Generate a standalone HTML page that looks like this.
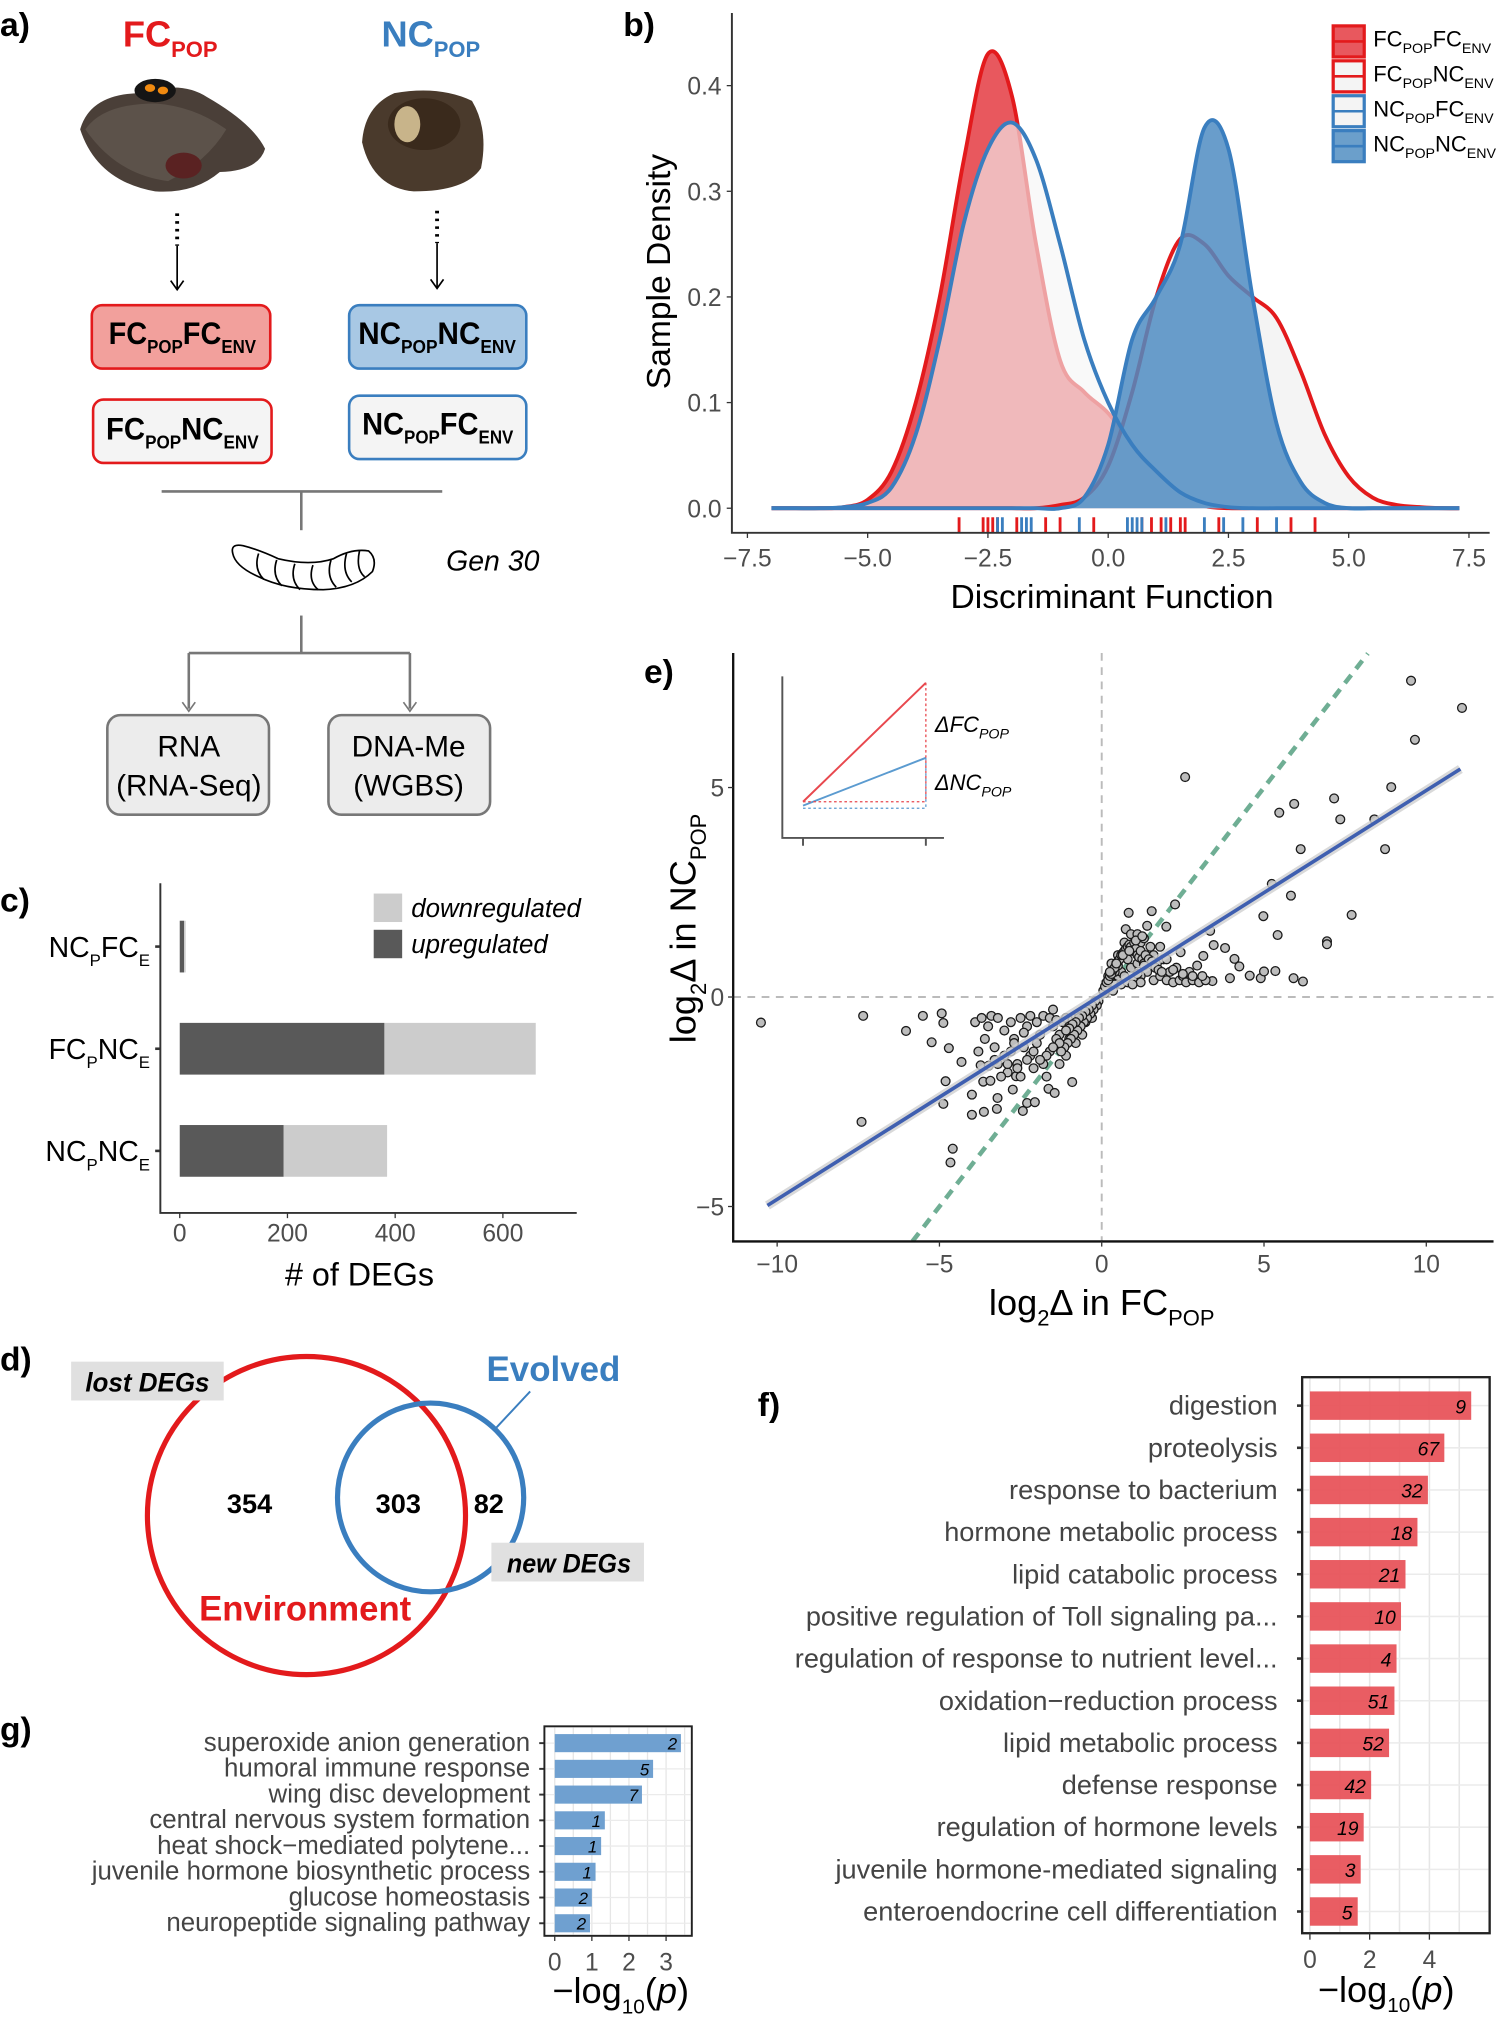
<!DOCTYPE html>
<html><head><meta charset="utf-8">
<style>
html,body{margin:0;padding:0;background:#fff;}
svg{display:block;}
text{font-family:"Liberation Sans Narrow","Liberation Sans",sans-serif;}
.tick{fill:#4d4d4d;font-size:19px;}
.lab{font-weight:bold;font-size:26px;fill:#000;}
</style></head>
<body>
<svg id="fig" width="1500" height="2038" viewBox="0 0 1160 1576" xmlns="http://www.w3.org/2000/svg">
<!-- PANEL A -->
<g>
<text x="0" y="28" class="lab">a)</text>
<text x="95" y="36" font-size="28" font-weight="bold" fill="#e31a1c">FC<tspan font-size="17" dy="8">POP</tspan></text>
<text x="295" y="36" font-size="28" font-weight="bold" fill="#3a7ebf">NC<tspan font-size="17" dy="8">POP</tspan></text>
<g>
<path d="M62,100 Q70,72 110,72 Q140,62 160,75 Q195,95 205,115 Q200,132 170,133 Q150,150 120,148 Q75,140 62,100Z" fill="#4a3f38"/>
<path d="M66,100 Q80,80 120,80 Q150,82 175,100 Q160,125 130,140 Q90,135 66,100Z" fill="#5c524a"/>
<ellipse cx="142" cy="128" rx="14" ry="10" fill="#5a2222"/>
<ellipse cx="120" cy="70" rx="16" ry="9" fill="#151515"/>
<ellipse cx="116" cy="68" rx="4" ry="3" fill="#f08a10"/><ellipse cx="126" cy="70" rx="4" ry="3" fill="#f08a10"/>
</g>
<g>
<path d="M280,110 Q282,82 305,72 Q340,66 365,78 Q378,100 372,130 Q360,148 320,148 Q288,145 280,110Z" fill="#4a3a2c"/>
<ellipse cx="328" cy="96" rx="28" ry="20" fill="#3a2a1c"/>
<ellipse cx="315" cy="96" rx="10" ry="14" fill="#c8b48a"/>
</g>
<g stroke="#000" fill="none" stroke-width="1.3">
<line x1="137" y1="165" x2="137" y2="190" stroke-dasharray="2,4" stroke-width="3"/>
<line x1="137" y1="190" x2="137" y2="223"/><path d="M132,217 L137,224 L142,217"/>
<line x1="338" y1="163" x2="338" y2="188" stroke-dasharray="2,4" stroke-width="3"/>
<line x1="338" y1="188" x2="338" y2="222"/><path d="M333,216 L338,223 L343,216"/>
</g>
<g><rect x="71" y="236" width="138" height="49" rx="8" fill="#f2a09c" stroke="#e31a1c" stroke-width="2"/>
<text x="84" y="266" font-size="24" font-weight="bold" textLength="114" lengthAdjust="spacingAndGlyphs">FC<tspan font-size="14" dy="7">POP</tspan><tspan dy="-7">FC</tspan><tspan font-size="14" dy="7">ENV</tspan></text></g>
<g><rect x="270" y="236" width="137" height="49" rx="8" fill="#a8c8e4" stroke="#3a7ebf" stroke-width="2"/>
<text x="277" y="266" font-size="24" font-weight="bold" textLength="122" lengthAdjust="spacingAndGlyphs">NC<tspan font-size="14" dy="7">POP</tspan><tspan dy="-7">NC</tspan><tspan font-size="14" dy="7">ENV</tspan></text></g>
<g><rect x="72" y="309" width="138" height="49" rx="8" fill="#f4f4f4" stroke="#e31a1c" stroke-width="2"/>
<text x="82" y="340" font-size="24" font-weight="bold" textLength="118" lengthAdjust="spacingAndGlyphs">FC<tspan font-size="14" dy="7">POP</tspan><tspan dy="-7">NC</tspan><tspan font-size="14" dy="7">ENV</tspan></text></g>
<g><rect x="270" y="306" width="137" height="49" rx="8" fill="#f4f4f4" stroke="#3a7ebf" stroke-width="2"/>
<text x="280" y="336" font-size="24" font-weight="bold" textLength="117" lengthAdjust="spacingAndGlyphs">NC<tspan font-size="14" dy="7">POP</tspan><tspan dy="-7">FC</tspan><tspan font-size="14" dy="7">ENV</tspan></text></g>
<g stroke="#777" stroke-width="2" fill="none">
<line x1="125" y1="380" x2="342" y2="380"/><line x1="233" y1="380" x2="233" y2="410"/>
<line x1="233" y1="476" x2="233" y2="505"/><line x1="146" y1="505" x2="317" y2="505"/>
<line x1="146" y1="505" x2="146" y2="548"/><line x1="317" y1="505" x2="317" y2="548"/>
<path d="M141,543 L146,550 L151,543 M312,543 L317,550 L322,543" stroke-width="1.3"/>
</g>
<g stroke="#000" stroke-width="1.3" fill="#fff">
<path d="M180,428 Q178,420 188,422 Q200,425 215,432 Q240,438 258,432 Q272,424 285,426 Q292,432 288,442 Q275,455 250,456 Q220,456 200,446 Q182,438 180,428Z"/>
<path d="M200,428 Q196,440 204,448 M214,433 Q210,445 218,453 M228,436 Q224,448 232,456 M242,437 Q238,449 246,456 M256,433 Q252,446 260,454 M268,428 Q264,442 272,450 M278,426 Q275,440 282,446" fill="none"/>
</g>
<text x="345" y="441" font-size="22" font-style="italic">Gen 30</text>
<g><rect x="83" y="553" width="125" height="77" rx="10" fill="#ececec" stroke="#777" stroke-width="2"/>
<text x="146" y="585" font-size="23" text-anchor="middle">RNA</text><text x="146" y="615" font-size="23" text-anchor="middle">(RNA-Seq)</text></g>
<g><rect x="254" y="553" width="125" height="77" rx="10" fill="#ececec" stroke="#777" stroke-width="2"/>
<text x="316" y="585" font-size="23" text-anchor="middle">DNA-Me</text><text x="316" y="615" font-size="23" text-anchor="middle">(WGBS)</text></g>
</g>

<g id="panelB"></g>
<g id="panelC"></g>
<g id="panelD">
<text x="0" y="1060" class="lab">d)</text>
<ellipse cx="237" cy="1172" rx="123" ry="123" fill="none" stroke="#e31a1c" stroke-width="4"/>
<ellipse cx="333" cy="1158" rx="72" ry="73" fill="none" stroke="#3a7ebf" stroke-width="4"/>
<text x="193" y="1170" font-size="21" font-weight="bold" text-anchor="middle">354</text>
<text x="308" y="1170" font-size="21" font-weight="bold" text-anchor="middle">303</text>
<text x="378" y="1170" font-size="21" font-weight="bold" text-anchor="middle">82</text>
<g><rect x="55" y="1053" width="118" height="30" fill="#e0e0e0"/><text x="114" y="1076" font-size="21" font-weight="bold" font-style="italic" text-anchor="middle" textLength="96" lengthAdjust="spacingAndGlyphs">lost DEGs</text></g>
<text x="428" y="1068" font-size="27" font-weight="bold" fill="#3a7ebf" text-anchor="middle">Evolved</text>
<line x1="410" y1="1076" x2="382" y2="1106" stroke="#3a7ebf" stroke-width="1.5"/>
<g><rect x="380" y="1193" width="118" height="30" fill="#e0e0e0"/><text x="440" y="1216" font-size="21" font-weight="bold" font-style="italic" text-anchor="middle" textLength="96" lengthAdjust="spacingAndGlyphs">new DEGs</text></g>
<text x="236" y="1253" font-size="27" font-weight="bold" fill="#e31a1c" text-anchor="middle" textLength="164" lengthAdjust="spacingAndGlyphs">Environment</text>
</g>
<g id="panelE"></g>
<g id="panelF"></g>
<g id="panelG"></g>
</svg>

<script>
// ===== Panel B data =====
const bGrid = [-7,-6.5,-6,-5.5,-5,-4.5,-4,-3.5,-3,-2.5,-2,-1.5,-1,-0.5,0,0.5,1,1.5,2,2.5,3,3.5,4,4.5,5,5.5,6,6.5,7,7.3];
const densFCFC = [0,0,0,0.001,0.008,0.035,0.10,0.20,0.33,0.43,0.39,0.25,0.14,0.11,0.09,0.06,0.03,0.01,0.002,0,0,0,0,0,0,0,0,0,0,0];
const densNCFC = [0,0,0,0.001,0.005,0.02,0.07,0.16,0.27,0.34,0.365,0.33,0.25,0.16,0.10,0.06,0.035,0.015,0.005,0.001,0,0,0,0,0,0,0,0,0,0];
const densFCNC = [0,0,0,0,0,0,0,0,0,0,0,0,0.003,0.01,0.04,0.11,0.20,0.255,0.25,0.22,0.20,0.18,0.13,0.07,0.03,0.01,0.003,0.001,0,0];
const densNCNC = [0,0,0,0,0,0,0,0,0,0,0,0,0,0.01,0.06,0.16,0.20,0.25,0.36,0.34,0.20,0.08,0.025,0.005,0,0,0,0,0,0];
const rugRed = [-3.1,-2.6,-2.5,-2.4,-2.3,-1.9,-1.3,-1.0,-0.3,0.7,0.9,1.1,1.3,1.5,1.6,2.3,3.1,3.8,4.3];
const rugBlue = [-2.3,-2.2,-1.8,-1.7,-1.6,-0.6,0.4,0.5,0.6,0.7,1.2,2.0,2.4,2.8,3.5];
const bXTicks = [-7.5,-5.0,-2.5,0.0,2.5,5.0,7.5];
const bYTicks = [0.0,0.1,0.2,0.3,0.4];

// ===== Panel C data =====
const cCats = ["NCFC","FCNC","NCNC"];
const cUp = [8,380,193];
const cDown = [3,281,192];
const cXTicks = [0,200,400,600];

// ===== Panel E data =====
const eX = [9.53,11.1,9.65,2.57,8.92,7.16,5.93,5.47,7.35,8.40,6.13,8.73,5.24,5.83,7.70,4.98,5.42,6.94,6.94,2.26,0.83,1.54,0.74,1.99,3.34,3.45,3.80,4.09,4.24,4.56,4.90,5.0,5.35,5.91,6.20,3.95,3.13,3.41,2.94,2.60,2.43,
-10.5,-7.35,-6.03,-5.51,-4.93,-4.88,-5.24,-4.71,-4.32,-4.81,-4.88,-4.0,-3.21,-3.63,-3.23,-4.0,-7.40,-4.59,-4.66,-2.43,-2.30,-2.06,-1.64,-1.45,-0.91,-2.74,-2.64,-3.65,-3.43,-3.73,-3.48,
-3.9,-3.7,-3.5,-3.4,-3.2,-3.0,-2.8,-2.7,-2.5,-2.3,-2.2,-2.0,-1.9,-1.8,-1.6,-1.5,-1.4,-1.3,-1.2,-1.1,-1.0,-0.9,-0.8,-0.7,-0.6,-0.5,-0.4,-0.3,-0.2,-0.1,-3.6,-3.3,-3.0,-2.8,-2.6,-2.4,-2.2,-2.0,-1.8,-1.6,-1.4,-1.2,-1.0,-0.9,-0.7,-0.5,-0.4,-2.9,-2.5,-2.1,-1.7,-1.3,-1.1,-0.8,-0.6,-0.3,-3.8,-3.2,-1.5,
0.1,0.2,0.3,0.4,0.5,0.6,0.7,0.8,0.9,1.0,1.1,1.2,1.3,1.4,1.5,1.6,1.7,1.8,1.9,2.0,2.1,2.2,2.3,2.4,2.5,2.6,2.7,2.8,3.0,3.2,0.3,0.5,0.7,0.9,1.1,1.3,0.4,0.6,0.8,1.0,1.2,0.2,0.5,1.6,1.8,2.0,1.4,0.15,0.35,
-0.15,-0.25,-0.35,-0.45,-0.55,-0.65,-0.75,-0.85,-0.95,-1.05,-1.15,-1.25,-0.2,-0.3,-0.4,-0.5,-0.6,-0.7,-0.8,-0.9,-1.0,-1.1,-1.3,-1.5,-1.7,-1.9,-2.1,-2.3,-2.6,-2.9,-3.1,-3.3,-2.4,-2.7,
0.05,0.1,0.15,0.2,0.25,0.3,0.35,0.4,0.45,0.5,0.55,0.6,0.65,0.7,0.75,0.8,0.85,0.9,0.95,1.0,1.05,1.1,1.15,1.2,1.25,1.3,1.35,1.45,1.55,1.65,1.75,1.85,0.25,0.45,0.65,0.85,1.05,1.25,2.2,2.5,2.8,3.1,1.1,1.3,1.2,0.95];
const eY = [7.55,6.9,6.14,5.25,5.01,4.74,4.61,4.40,4.24,4.24,3.53,3.53,2.70,2.42,1.96,1.93,1.48,1.33,1.26,2.21,2.01,2.05,1.62,1.68,1.58,1.24,1.17,0.91,0.73,0.51,0.45,0.61,0.62,0.45,0.37,0.45,0.98,0.38,0.75,0.54,1.07,
-0.61,-0.45,-0.81,-0.45,-0.39,-0.62,-1.08,-1.22,-1.55,-2.01,-2.55,-2.33,-2.41,-2.74,-2.67,-2.81,-2.98,-3.62,-3.95,-2.72,-2.53,-2.51,-2.19,-2.29,-2.03,-2.21,-1.89,-2.02,-2.0,-1.63,-1.64,
-0.6,-0.5,-0.7,-0.45,-0.5,-0.8,-0.6,-1.0,-0.5,-0.7,-0.45,-0.6,-0.9,-0.45,-0.5,-0.7,-0.55,-0.9,-0.6,-0.5,-0.7,-0.55,-0.45,-0.4,-0.35,-0.3,-0.25,-0.2,-0.15,-0.1,-1.0,-1.2,-1.4,-1.3,-1.6,-1.2,-1.4,-1.1,-1.6,-1.3,-1.0,-1.2,-1.0,-0.8,-0.7,-0.6,-0.5,-1.8,-1.9,-1.7,-1.9,-1.6,-1.4,-1.1,-0.9,-0.5,-1.3,-1.6,-0.3,
0.1,0.2,0.35,0.3,0.5,0.6,0.5,0.9,0.7,1.1,0.8,1.3,0.9,0.6,1.2,0.4,0.8,0.5,0.9,0.4,0.6,0.35,0.7,0.4,0.5,0.35,0.6,0.4,0.35,0.4,0.8,1.0,1.3,1.5,1.5,1.4,0.6,0.3,0.35,0.4,0.5,0.5,0.75,1.0,1.2,0.9,1.7,0.3,0.15,
-0.2,-0.3,-0.4,-0.5,-0.6,-0.7,-0.8,-0.9,-1.0,-1.1,-1.2,-1.3,-0.1,-0.2,-0.3,-0.35,-0.45,-0.5,-0.6,-0.65,-0.75,-0.8,-1.1,-1.2,-1.4,-1.5,-1.3,-1.5,-1.7,-1.6,-1.9,-1.5,-0.85,-1.1,
0.15,0.25,0.35,0.4,0.5,0.55,0.65,0.7,0.8,0.85,0.9,1.0,1.05,1.1,1.15,1.2,1.25,1.2,1.1,1.3,1.15,1.0,0.95,1.1,0.9,0.8,1.0,0.9,0.85,0.7,0.65,0.6,0.6,0.8,1.0,1.1,1.35,1.45,0.65,0.55,0.5,0.5,0.55,0.75,0.35,0.3];
const eXTicks = [-10,-5,0,5,10];
const eYTicks = [-5,0,5];
const eRegSlope = [0.488];
const eRegIntercept = [0.05];
const eRegRange = [-10.3,11.05];

// ===== Panel F data =====
const fTerms = ["digestion","proteolysis","response to bacterium","hormone metabolic process","lipid catabolic process","positive regulation of Toll signaling pa...","regulation of response to nutrient level...","oxidation\u2212reduction process","lipid metabolic process","defense response","regulation of hormone levels","juvenile hormone-mediated signaling","enteroendocrine cell differentiation"];
const fVals = [5.4,4.5,3.95,3.6,3.2,3.05,2.9,2.83,2.65,2.05,1.8,1.7,1.6];
const fCounts = ["9","67","32","18","21","10","4","51","52","42","19","3","5"];
const fXTicks = [0,2,4];

// ===== Panel G data =====
const gTerms = ["superoxide anion generation","humoral immune response","wing disc development","central nervous system formation","heat shock\u2212mediated polytene...","juvenile hormone biosynthetic process","glucose homeostasis","neuropeptide signaling pathway"];
const gVals = [3.4,2.65,2.35,1.35,1.25,1.1,1.0,0.95];
const gCounts = ["2","5","7","1","1","1","2","2"];
const gXTicks = [0,1,2,3];

const NS="http://www.w3.org/2000/svg";
function mk(parent, tag, attrs, txt){const e=document.createElementNS(NS,tag);for(const k in attrs)e.setAttribute(k,attrs[k]);if(txt!==undefined)e.textContent=txt;parent.appendChild(e);return e;}
function smoothPath(pts){let d="M"+pts[0][0]+","+pts[0][1];for(let i=0;i<pts.length-1;i++){const p0=pts[Math.max(0,i-1)],p1=pts[i],p2=pts[i+1],p3=pts[Math.min(pts.length-1,i+2)];const c1=[p1[0]+(p2[0]-p0[0])/6,p1[1]+(p2[1]-p0[1])/6];const c2=[p2[0]-(p3[0]-p1[0])/6,p2[1]-(p3[1]-p1[1])/6];d+=" C"+c1[0].toFixed(2)+","+c1[1].toFixed(2)+" "+c2[0].toFixed(2)+","+c2[1].toFixed(2)+" "+p2[0].toFixed(2)+","+p2[1].toFixed(2);}return d;}

// ===== Panel B =====
(function(){
const g=document.getElementById("panelB");
const bx=v=>857+v*37.2, by=v=>393-v*817;
let t=mk(g,"text",{x:482,y:28,class:"lab"},"b)");


function curve(arr,fill,fop,stroke,name){
  const pts=bGrid.map((x,i)=>[bx(x),by(arr[i])]);
  const d=smoothPath(pts);
  const area=mk(g,"path",{d:d+" L"+bx(bGrid[bGrid.length-1])+","+by(0)+" L"+bx(bGrid[0])+","+by(0)+"Z",fill:fill,"fill-opacity":fop,stroke:"none"});
  
  
  return d;
}
const d1=curve(densFCFC,"#e8585e",1,"#e31a1c","density-fcpop-fcenv");
const l1=mk(g,"path",{d:d1,fill:"none",stroke:"#e31a1c","stroke-width":3});


const d2=curve(densNCFC,"#f6f6f6",0.62,"#3a7ebf","density-ncpop-fcenv");
const d3=curve(densFCNC,"#f2f2f2",0.85,"#e31a1c","density-fcpop-ncenv");
const l3=mk(g,"path",{d:d3,fill:"none",stroke:"#e31a1c","stroke-width":3});


const d4=curve(densNCNC,"#4f8cc2",0.85,"#3a7ebf","density-ncpop-ncenv");
const l4=mk(g,"path",{d:d4,fill:"none",stroke:"#3a7ebf","stroke-width":3});


const l2=mk(g,"path",{d:d2,fill:"none",stroke:"#3a7ebf","stroke-width":3});


rugRed.forEach(v=>{const r=mk(g,"line",{x1:bx(v),x2:bx(v),y1:400,y2:412,stroke:"#e31a1c","stroke-width":2.2});

});
rugBlue.forEach(v=>{const r=mk(g,"line",{x1:bx(v),x2:bx(v),y1:400,y2:412,stroke:"#3a7ebf","stroke-width":2.2});

});
const ax=mk(g,"path",{d:"M566,10 L566,412 L1152,412",fill:"none",stroke:"#333","stroke-width":1.5});


bXTicks.forEach(v=>{const tk=mk(g,"text",{x:bx(v),y:438,class:"tick","text-anchor":"middle"},(v<0?"\u2212":"")+Math.abs(v).toFixed(1));


mk(g,"line",{x1:bx(v),x2:bx(v),y1:412,y2:416,stroke:"#333"});});
bYTicks.forEach(v=>{const tk=mk(g,"text",{x:558,y:by(v)+7,class:"tick","text-anchor":"end"},v.toFixed(1));


mk(g,"line",{x1:562,x2:566,y1:by(v),y2:by(v),stroke:"#333"});});
t=mk(g,"text",{x:0,y:0,"font-size":26,"text-anchor":"middle",transform:"translate(518,210) rotate(-90)"},"Sample Density");


t=mk(g,"text",{x:860,y:470,"font-size":26,"text-anchor":"middle"},"Discriminant Function");


const leg=[["#e8585e","#e31a1c","FC","FC"],["#f4f4f4","#e31a1c","FC","NC"],["#f4f4f4","#3a7ebf","NC","FC"],["#6b9fcb","#3a7ebf","NC","NC"]];
leg.forEach((l,i)=>{const y=20+i*27;
const r=mk(g,"rect",{x:1031,y:y,width:24,height:24,fill:l[0],stroke:l[1],"stroke-width":2.5});


mk(g,"line",{x1:1031,x2:1055,y1:y+12,y2:y+12,stroke:l[1],"stroke-width":2});
const tx=mk(g,"text",{x:1062,y:y+16,"font-size":17});


tx.innerHTML=l[2]+'<tspan font-size="11" dy="5">POP</tspan><tspan dy="-5">'+l[3]+'</tspan><tspan font-size="11" dy="5">ENV</tspan>';});
})();

// ===== Panel C =====
(function(){
const g=document.getElementById("panelC");
const cx=v=>139+v*0.4165;
let t=mk(g,"text",{x:0,y:705,class:"lab"},"c)");


const yc=[732,811,890];
const lbl=[["NC","FC"],["FC","NC"],["NC","NC"]];
cCats.forEach((c,i)=>{
const up=mk(g,"rect",{x:cx(0),y:yc[i]-20,width:cx(cUp[i])-cx(0),height:40,fill:"#595959"});


const dn=mk(g,"rect",{x:cx(cUp[i]),y:yc[i]-20,width:cx(cUp[i]+cDown[i])-cx(cUp[i]),height:40,fill:"#cccccc"});


const tx=mk(g,"text",{x:116,y:yc[i]+8,"font-size":22,"text-anchor":"end"});


tx.innerHTML=lbl[i][0]+'<tspan font-size="13" dy="7">P</tspan><tspan dy="-7">'+lbl[i][1]+'</tspan><tspan font-size="13" dy="7">E</tspan>';
mk(g,"line",{x1:120,x2:124,y1:yc[i],y2:yc[i],stroke:"#333","stroke-width":2});
});
const ax=mk(g,"path",{d:"M124,683 L124,938 L446,938",fill:"none",stroke:"#333","stroke-width":1.5});


cXTicks.forEach(v=>{const tk=mk(g,"text",{x:cx(v),y:960,class:"tick","text-anchor":"middle"},String(v));


mk(g,"line",{x1:cx(v),x2:cx(v),y1:938,y2:942,stroke:"#333"});});
t=mk(g,"text",{x:278,y:994,"font-size":25,"text-anchor":"middle"},"# of DEGs");


let r=mk(g,"rect",{x:289,y:691,width:22,height:22,fill:"#cccccc"});


r=mk(g,"rect",{x:289,y:719,width:22,height:22,fill:"#595959"});


t=mk(g,"text",{x:318,y:709,"font-size":20,"font-style":"italic"},"downregulated");


t=mk(g,"text",{x:318,y:737,"font-size":20,"font-style":"italic"},"upregulated");


})();

// ===== Panel E =====
(function(){
const g=document.getElementById("panelE");
const ex=v=>852+v*25.1, ey=v=>771-v*32.4;
let t=mk(g,"text",{x:498,y:528,class:"lab"},"e)");


let l=mk(g,"line",{x1:852,x2:852,y1:505,y2:960,stroke:"#bbb","stroke-width":1.5,"stroke-dasharray":"6,5"});


l=mk(g,"line",{x1:567,x2:1155,y1:771,y2:771,stroke:"#bbb","stroke-width":1.5,"stroke-dasharray":"6,5"});


l=mk(g,"line",{x1:ex(-5.83),y1:ey(-5.83),x2:ex(8.2),y2:ey(8.2),stroke:"#6fae94","stroke-width":3.5,"stroke-dasharray":"8,6"});


eX.forEach((x,i)=>{const c=mk(g,"circle",{cx:ex(x),cy:ey(eY[i]),r:3.4,fill:"#bdbdbd",stroke:"#1a1a1a","stroke-width":1});

});
const x0=eRegRange[0],x1=eRegRange[1];
const y0=eRegIntercept[0]+eRegSlope[0]*x0, y1=eRegIntercept[0]+eRegSlope[0]*x1;
l=mk(g,"line",{x1:ex(x0),y1:ey(y0),x2:ex(x1),y2:ey(y1),stroke:"#cfcfcf","stroke-width":7,"stroke-opacity":0.8});


l=mk(g,"line",{x1:ex(x0),y1:ey(y0),x2:ex(x1),y2:ey(y1),stroke:"#3f5fb0","stroke-width":2.8});


const ax=mk(g,"path",{d:"M567,505 L567,960 L1155,960",fill:"none",stroke:"#111","stroke-width":1.8});


eXTicks.forEach(v=>{const tk=mk(g,"text",{x:ex(v),y:984,class:"tick","text-anchor":"middle"},(v<0?"\u2212":"")+Math.abs(v));


mk(g,"line",{x1:ex(v),x2:ex(v),y1:960,y2:964,stroke:"#333"});});
eYTicks.forEach(v=>{const tk=mk(g,"text",{x:560,y:ey(v)+7,class:"tick","text-anchor":"end"},(v<0?"\u2212":"")+Math.abs(v));


mk(g,"line",{x1:563,x2:567,y1:ey(v),y2:ey(v),stroke:"#333"});});
t=mk(g,"text",{x:852,y:1017,"font-size":28,"text-anchor":"middle"});


t.innerHTML='log<tspan font-size="17" dy="8">2</tspan><tspan dy="-8">\u0394 in FC</tspan><tspan font-size="17" dy="8">POP</tspan>';
t=mk(g,"text",{x:0,y:0,"font-size":28,"text-anchor":"middle",transform:"translate(538,718) rotate(-90)"});


t.innerHTML='log<tspan font-size="17" dy="8">2</tspan><tspan dy="-8">\u0394 in NC</tspan><tspan font-size="17" dy="8">POP</tspan>';
const ins=mk(g,"g",{});


mk(ins,"path",{d:"M605,523 L605,648 L730,648 M621,648 L621,654 M716,648 L716,654",fill:"none",stroke:"#555","stroke-width":1.5});
mk(ins,"line",{x1:621,y1:620,x2:716,y2:528,stroke:"#e8484e","stroke-width":1.5});
mk(ins,"line",{x1:621,y1:623,x2:716,y2:586,stroke:"#5b9bd0","stroke-width":1.5});
mk(ins,"path",{d:"M621,620 L716,620 M716,528 L716,620",fill:"none",stroke:"#e8484e","stroke-width":1,"stroke-dasharray":"2,2"});
mk(ins,"path",{d:"M621,625 L716,625 M716,586 L716,625",fill:"none",stroke:"#5b9bd0","stroke-width":1,"stroke-dasharray":"2,2"});
const a1=mk(ins,"text",{x:723,y:566,"font-size":17,"font-style":"italic"});
a1.innerHTML='\u0394FC<tspan font-size="11" dy="5">POP</tspan>';
const a2=mk(ins,"text",{x:723,y:611,"font-size":17,"font-style":"italic"});
a2.innerHTML='\u0394NC<tspan font-size="11" dy="5">POP</tspan>';
})();

// ===== Panel F =====
(function(){
const g=document.getElementById("panelF");
const fx=v=>1013+v*23.1;
let t=mk(g,"text",{x:586,y:1095,class:"lab"},"f)");


for(let v=0;v<=6;v++){if(fx(v)<1152)mk(g,"line",{x1:fx(v),x2:fx(v),y1:1066,y2:1494,stroke:"#e6e6e6","stroke-width":1.2});}
fTerms.forEach((term,i)=>{const yc=1087+i*32.6;
mk(g,"line",{x1:1008,x2:1151,y1:yc,y2:yc,stroke:"#ebebeb","stroke-width":1.2});
const b=mk(g,"rect",{x:fx(0),y:yc-11,width:fx(fVals[i])-fx(0),height:22,fill:"#e8545b","fill-opacity":0.95});


const c=mk(g,"text",{x:fx(fVals[i])-4,y:yc+6,"font-size":15,"font-style":"italic","text-anchor":"end"},fCounts[i]);


const lb=mk(g,"text",{x:988,y:yc+7,"font-size":21,fill:"#444","text-anchor":"end"},term);


mk(g,"line",{x1:1003,x2:1007,y1:yc,y2:yc,stroke:"#333","stroke-width":2});});
const fr=mk(g,"rect",{x:1007,y:1065,width:145,height:430,fill:"none",stroke:"#222","stroke-width":1.8});


fXTicks.forEach(v=>{const tk=mk(g,"text",{x:fx(v),y:1522,class:"tick","text-anchor":"middle"},String(v));


mk(g,"line",{x1:fx(v),x2:fx(v),y1:1495,y2:1500,stroke:"#333"});});
t=mk(g,"text",{x:1072,y:1548,"font-size":28,"text-anchor":"middle"});


t.innerHTML='\u2212log<tspan font-size="16" dy="8">10</tspan><tspan dy="-8">(</tspan><tspan font-style="italic">p</tspan>)';
})();

// ===== Panel G =====
(function(){
const g=document.getElementById("panelG");
const gx=v=>429+v*28.7;
let t=mk(g,"text",{x:0,y:1346,class:"lab"},"g)");


for(let v=0;v<=3.5;v+=0.5){mk(g,"line",{x1:gx(v),x2:gx(v),y1:1336,y2:1496,stroke:"#e6e6e6","stroke-width":1});}
gTerms.forEach((term,i)=>{const yc=1348+i*19.9;
mk(g,"line",{x1:422,x2:534,y1:yc,y2:yc,stroke:"#ebebeb","stroke-width":1});
const b=mk(g,"rect",{x:gx(0),y:yc-7,width:gx(gVals[i])-gx(0),height:14,fill:"#6fa0d0"});


const c=mk(g,"text",{x:gx(gVals[i])-3,y:yc+5,"font-size":13,"font-style":"italic","text-anchor":"end"},gCounts[i]);


const lb=mk(g,"text",{x:410,y:yc+6,"font-size":20,fill:"#444","text-anchor":"end"},term);


mk(g,"line",{x1:417,x2:421,y1:yc,y2:yc,stroke:"#333","stroke-width":1.5});});
const fr=mk(g,"rect",{x:421,y:1335,width:114,height:162,fill:"none",stroke:"#222","stroke-width":1.5});


gXTicks.forEach(v=>{const tk=mk(g,"text",{x:gx(v),y:1524,class:"tick","text-anchor":"middle"},String(v));


mk(g,"line",{x1:gx(v),x2:gx(v),y1:1497,y2:1501,stroke:"#333"});});
t=mk(g,"text",{x:480,y:1549,"font-size":28,"text-anchor":"middle"});


t.innerHTML='\u2212log<tspan font-size="16" dy="8">10</tspan><tspan dy="-8">(</tspan><tspan font-style="italic">p</tspan>)';
})();
</script>
</body></html>
